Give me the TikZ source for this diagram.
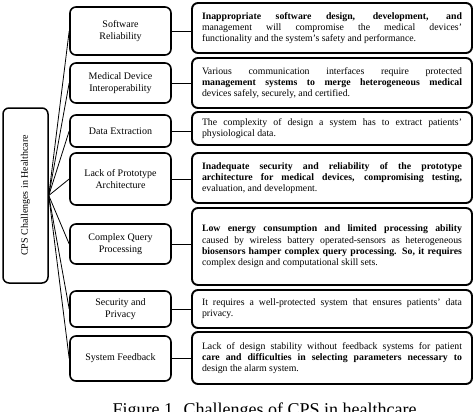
\documentclass[tikz,border=0pt]{standalone}
\usepackage{fontspec}
\setmainfont{Liberation Serif}
\hbadness=10000
\tolerance=10000
\hyphenpenalty=10000
\exhyphenpenalty=10000
\begin{document}
\begin{tikzpicture}[x=1pt,y=-1pt,
  box/.style={draw, rounded corners=6pt, line width=1.6pt, inner sep=0pt},
  mid/.style={box, align=center, minimum width=101pt, font=\fontsize{10}{11.5}\selectfont},
  desc/.style={box, line width=1.9pt, minimum width=280pt, text width=260pt, align=justify, font=\fontsize{9.8}{11.3}\selectfont},
  link/.style={line width=0.8pt}]
\useasboundingbox (0,0) rectangle (474,412);

% root
\node[box, line width=1.5pt, minimum width=45pt, minimum height=175pt] (root) at (25.5,195.5) {};
\node[rotate=90, font=\fontsize{10}{12}\selectfont] (rootlabel) at (root.center) {CPS Challenges in Healthcare};

% middle boxes
\node[mid, minimum height=48pt] (m1) at (120.5,31) {Software\\Reliability};
\node[mid, minimum height=40pt] (m2) at (120.5,83) {Medical Device\\Interoperability};
\node[mid, minimum height=32pt] (m3) at (120.5,131) {Data Extraction};
\node[mid, minimum height=52pt] (m4) at (120.5,179) {Lack of Prototype\\Architecture};
\node[mid, minimum height=40pt] (m5) at (120.5,244) {Complex Query\\Processing};
\node[mid, minimum height=36pt] (m6) at (120.5,309) {Security and\\Privacy};
\node[mid, minimum height=45pt] (m7) at (120.5,358.5) {System Feedback};

% description boxes
\node[desc, minimum height=50pt] (d1) at (332,28) {\textbf{Inappropriate software design, development, and}\linebreak management will compromise the medical devices'\linebreak functionality and the system's safety and performance.};
\node[desc, minimum height=50pt] (d2) at (332,83) {Various communication interfaces require protected\linebreak \textbf{management systems to merge heterogeneous medical}\linebreak devices safely, securely, and certified.};
\node[desc, minimum height=33pt] (d3) at (332,128.5) {The complexity of design a system has to extract patients'\linebreak physiological data.};
\node[desc, minimum height=50pt] (d4) at (332,178) {\textbf{Inadequate security and reliability of the prototype\linebreak architecture for medical devices, compromising testing,}\linebreak evaluation, and development.};
\node[desc, minimum height=77pt] (d5) at (332,246.5) {\textbf{Low energy consumption and limited processing ability}\linebreak caused by wireless battery operated-sensors as heterogeneous\linebreak \textbf{biosensors hamper complex query processing. So, it requires}\linebreak complex design and computational skill sets.};
\node[desc, minimum height=38pt] (d6) at (332,309) {It requires a well-protected system that ensures patients' data\linebreak privacy.};
\node[desc, minimum height=52pt] (d7) at (332,358) {Lack of design stability without feedback systems for patient\linebreak \textbf{care and difficulties in selecting parameters necessary to}\linebreak design the alarm system.};

% connectors
\foreach \i in {1,...,7}{
  \draw[link] (root.east) -- (m\i.west);
  \draw[link] (m\i.east) -- (m\i.east -| d\i.west);
}

% caption (cut off at the bottom edge)
\node[font=\fontsize{18}{20}\selectfont, anchor=base, inner sep=0pt] (cap) at (264.5,415.5) {Figure 1. Challenges of CPS in healthcare};
\end{tikzpicture}
\end{document}
